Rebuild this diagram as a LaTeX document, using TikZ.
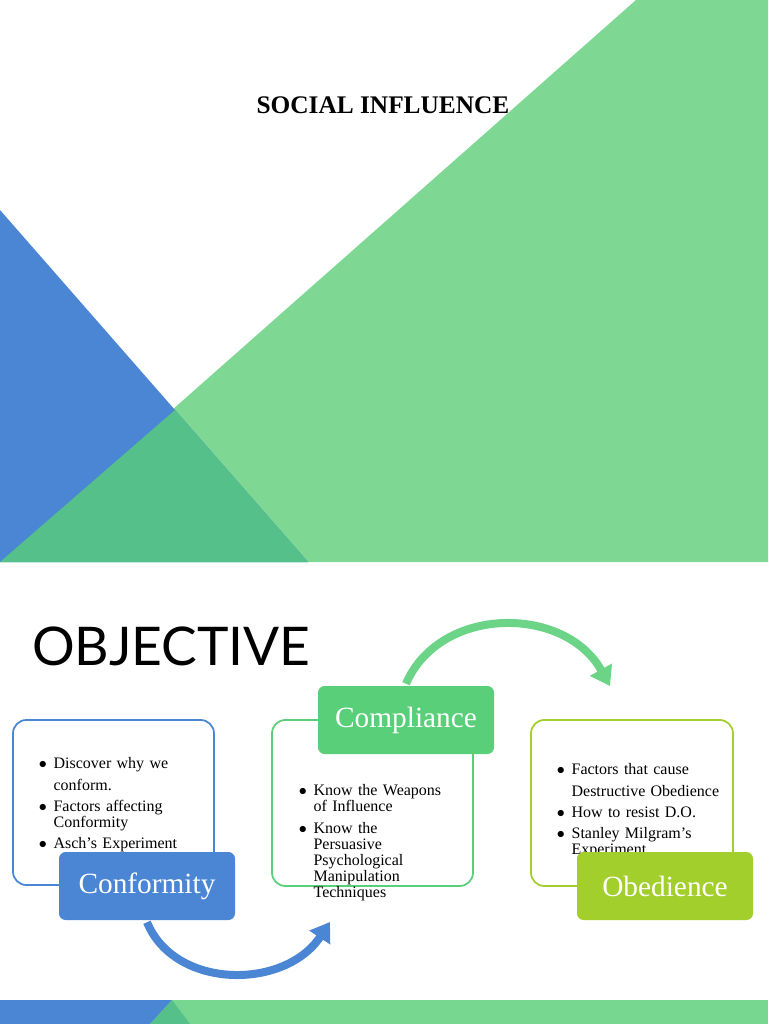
\documentclass[tikz,border=0pt]{standalone}
\usepackage{fontspec}
\setmainfont{Liberation Serif}
\newfontfamily\objfont{Lato}
\usetikzlibrary{arrows.meta}
\definecolor{gblue}{HTML}{4A86D4}
\definecolor{ggreen}{HTML}{7ED894}
\definecolor{gmix}{HTML}{55C08A}
\definecolor{cgreen}{HTML}{5ACF7A}
\definecolor{lgreen}{HTML}{A3CF2C}
\tikzset{
 outline/.style={draw, line width=1.3pt, rounded corners=10pt},
 lab/.style={rounded corners=5pt, text=white, font=\fontsize{22}{26}\selectfont, minimum width=132pt, minimum height=51pt},
 btxt/.style={anchor=north west, align=left, font=\fontsize{12}{12}\selectfont, text width=128pt, inner sep=0pt},
}
\begin{document}
\begin{tikzpicture}[x=0.75pt,y=-0.75pt]
\useasboundingbox (0,0) rectangle (768,1024);
% slide 1
\fill[ggreen] (636,0) -- (768,0) -- (768,562) -- (0,562) -- cycle;
\fill[gblue] (0,210) -- (0,562) -- (308,562) -- cycle;
\fill[gmix] (175,410) -- (308,562) -- (0,562) -- cycle;
\node (title) at (383,105) {\fontsize{19}{22}\selectfont\bfseries SOCIAL INFLUENCE};
% slide 2
\fill[white] (0,565) rectangle (768,1024);
\node[anchor=west, inner sep=0pt] (obj) at (32,646) {\objfont\fontsize{40}{44}\selectfont OBJECTIVE};
% boxes
\draw[outline, gblue] (13,720) rectangle (214,885);
\draw[outline, cgreen] (272,720) rectangle (473,886);
\draw[outline, lgreen] (531,720) rectangle (733,886);
\node[btxt] (t1) at (20,742) {\begin{itemize}\setlength\itemsep{0pt}\setlength\leftmargin{12pt}\item[$\bullet$] Discover why we\\[4pt] conform.\item[$\bullet$] Factors affecting Conformity\item[$\bullet$] Asch's Experiment\end{itemize}};
\node[btxt] (t2) at (280,769) {\begin{itemize}\setlength\itemsep{0pt}\item[$\bullet$] Know the Weapons of Influence\item[$\bullet$] Know the Persuasive Psychological Manipulation Techniques\end{itemize}};
\node[btxt, text width=140pt] (t3) at (538,748) {\begin{itemize}\setlength\itemsep{0pt}\item[$\bullet$] Factors that cause\\[4pt] Destructive Obedience\item[$\bullet$] How to resist D.O.\item[$\bullet$] Stanley Milgram's Experiment\end{itemize}};
\node[lab, fill=gblue] (conf) at (147,886) {Conformity};
\node[lab, fill=cgreen] (comp) at (406,720) {Compliance};
\node[lab, fill=lgreen] (obed) at (665,886) {Obedience};
% arcs
\coordinate (a1) at (330,922);
\coordinate (a2) at (610,686);
\draw[gblue, line width=6pt, -{Triangle[length=14pt,width=18pt]}] (conf.south) ++(0,2) .. controls (175,990) and (285,990) .. (a1);
\draw[cgreen!90!white, line width=6pt, -{Triangle[length=14pt,width=18pt]}] (comp.north) ++(0,-2) .. controls (440,605) and (565,605) .. (a2);
% bottom bar
\fill[ggreen!80!cgreen] (0,1000) rectangle (768,1024);
\fill[gblue] (0,1000) -- (172,1000) -- (150,1024) -- (0,1024) -- cycle;
\fill[gmix] (172,1000) -- (150,1024) -- (190,1024) -- cycle;
\end{tikzpicture}
\end{document}
